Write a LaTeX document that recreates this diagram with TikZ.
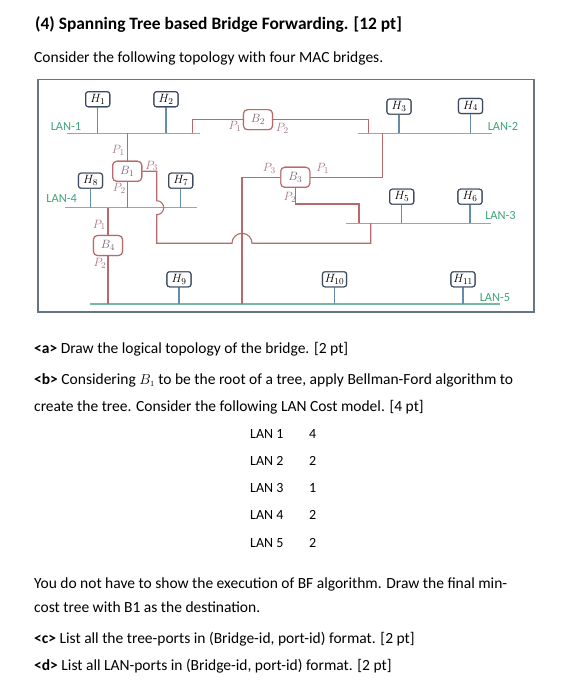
\documentclass[tikz,border=0pt]{standalone}
\usepackage{fontspec}
\setmainfont{Carlito}
\usetikzlibrary{calc}
\definecolor{linkc}{RGB}{185,105,105}
\definecolor{lanc}{RGB}{115,185,165}
\definecolor{lanlab}{RGB}{60,165,120}
\definecolor{stemc}{RGB}{100,140,175}
\definecolor{hostc}{RGB}{60,75,95}
\definecolor{portc}{RGB}{170,115,135}
\definecolor{brlab}{RGB}{120,100,120}
\definecolor{framec}{RGB}{100,118,130}
\tikzset{
  host/.style={draw=hostc, fill=white, rounded corners=2.5pt, line width=1.1pt,
    minimum width=24pt, minimum height=15pt, inner sep=0pt, font=\fontsize{12.5}{12.5}\selectfont},
  bridge/.style={draw=linkc, fill=white, rounded corners=4pt, line width=1.1pt,
    minimum width=29pt, minimum height=20pt, inner sep=0pt, text=brlab, font=\fontsize{13}{13}\selectfont},
  lan/.style={draw=lanc, line width=1.1pt},
  lanlabel/.style={text=lanlab, font=\fontsize{12.4}{12.4}\selectfont, inner sep=0pt},
  stem/.style={draw=stemc, line width=1.1pt},
  link/.style={draw=linkc, line width=1.1pt},
  port/.style={text=portc, font=\fontsize{12.5}{12.5}\selectfont, inner sep=0pt},
  txt/.style={anchor=base west, inner sep=0pt, font=\fontsize{15.5}{15.5}\selectfont},
  tbl/.style={anchor=base west, inner sep=0pt, font=\fontsize{14}{14}\selectfont},
  ttl/.style={anchor=base west, inner sep=0pt, font=\fontsize{17.4}{17.4}\selectfont\bfseries},
}
\begin{document}
\begin{tikzpicture}[x=1pt,y=-1pt]
\useasboundingbox (0,0) rectangle (562,700);
% texts
\node[ttl] (title) at (35,29.5) {(4) Spanning Tree based Bridge Forwarding. [12 pt]};
\node[txt] (intro) at (34,62.7) {Consider the following topology with four MAC bridges.};
\node[txt] (qa) at (34,353) {\textbf{<a>} Draw the logical topology of the bridge. [2 pt]};
\node[txt] (qb1) at (34,384) {\textbf{<b>} Considering $B_{\scriptscriptstyle 1}$ to be the root of a tree, apply Bellman-Ford algorithm to};
\node[txt] (qb2) at (34,411) {create the tree. Consider the following LAN Cost model. [4 pt]};
\foreach \i/\c/\y in {1/4/438.5,2/2/465.5,3/1/492.5,4/2/519.5,5/2/547}{
  \node[tbl] (lan\i t) at (250,\y) {LAN \i};
  \node[tbl] (cost\i) at (309,\y) {\c};
}
\node[txt] (note1) at (34,588) {You do not have to show the execution of BF algorithm. Draw the final min-};
\node[txt] (note2) at (34,612) {cost tree with B1 as the destination.};
\node[txt] (qc) at (34,643) {\textbf{<c>} List all the tree-ports in (Bridge-id, port-id) format. [2 pt]};
\node[txt] (qd) at (34,670) {\textbf{<d>} List all LAN-ports in (Bridge-id, port-id) format. [2 pt]};

% frame
\draw[draw=framec, line width=1.4pt] (38,79.5) rectangle (534,312);

% LANs
\coordinate (l1a) at (66.7,133.3); \coordinate (l1b) at (200,133.3);
\coordinate (l2a) at (358.3,133.3); \coordinate (l2b) at (491.7,133.3);
\coordinate (l3a) at (346,223.3); \coordinate (l3b) at (491,223.3);
\coordinate (l4a) at (65,207.7); \coordinate (l4b) at (196.7,207.7);
\coordinate (l5a) at (90,304); \coordinate (l5b) at (500,304);
\draw[lan] (l1a) -- (l1b);
\draw[lan] (l2a) -- (l2b);
\draw[lan] (l3a) -- (l3b);
\draw[lan] (l4a) -- (l4b);
\draw[lan] (l5a) -- (l5b);
\node[lanlabel] (lab1) at (66,126.5) {LAN-1};
\node[lanlabel] (lab2) at (503,126.5) {LAN-2};
\node[lanlabel] (lab3) at (500.5,216) {LAN-3};
\node[lanlabel] (lab4) at (61.7,198.3) {LAN-4};
\node[lanlabel] (lab5) at (495,297.3) {LAN-5};

% hosts
\node[host] (h1) at (97.7,99.3) {$H_1$};
\node[host] (h2) at (166,99.3) {$H_2$};
\node[host] (h3) at (399,106.7) {$H_3$};
\node[host] (h4) at (470.5,106) {$H_4$};
\node[host] (h5) at (401.7,196.7) {$H_5$};
\node[host] (h6) at (470,196.7) {$H_6$};
\node[host] (h7) at (180.7,180.7) {$H_7$};
\node[host] (h8) at (90.5,180.7) {$H_8$};
\node[host] (h9) at (179,279.3) {$H_9$};
\node[host] (h10) at (334.5,279.3) {$H_{10}$};
\node[host] (h11) at (463,279.3) {$H_{11}$};
\draw[stem] (h1) -- (h1 |- l1a);
\draw[stem] (h2) -- (h2 |- l1a);
\draw[stem] (h3) -- (h3 |- l2a);
\draw[stem] (h4) -- (h4 |- l2a);
\draw[stem] (h5) -- (h5 |- l3a);
\draw[stem] (h6) -- (h6 |- l3a);
\draw[stem] (h7) -- (h7 |- l4a);
\draw[stem] (h8) -- (h8 |- l4a);
\draw[stem] (h9) -- (h9 |- l5a);
\draw[stem] (h10) -- (h10 |- l5a);
\draw[stem] (h11) -- (h11 |- l5a);
\node[host] at (h1) {$H_1$}; \node[host] at (h2) {$H_2$};
\node[host] at (h3) {$H_3$}; \node[host] at (h4) {$H_4$};
\node[host] at (h5) {$H_5$}; \node[host] at (h6) {$H_6$};
\node[host] at (h7) {$H_7$}; \node[host] at (h8) {$H_8$};
\node[host] at (h9) {$H_9$}; \node[host] at (h10) {$H_{10}$};
\node[host] at (h11) {$H_{11}$};

% bridges
\node[bridge] (b1) at (127.2,171.3) {$B_1$};
\node[bridge] (b2) at (258,119.7) {$B_2$};
\node[bridge] (b3) at (295.3,177.3) {$B_3$};
\node[bridge] (b4) at (108,245.5) {$B_4$};

% links
\draw[link] (b2.west) -- (192.7,119.7) -- (192.7,133.3);
\draw[link] (b2.east) -- (368.3,119.7) -- (368.3,133.3);
\draw[link] (b1.north) -- (b1.north |- l1a);
\draw[link] (b1.south) -- (b1.south |- l4a);
\draw[link] (b1.east) -- (156.7,171.3) -- (156.7,200.7)
   arc[start angle=-90, end angle=90, radius=7] -- (156.7,243.3) -- (232,243.3)
   arc[start angle=180, end angle=360, radius=10] -- (370.7,243.3) -- (370.7,223.3);
\draw[link] (b3.east) -- (382.7,177.3) -- (382.7,133.3);
\draw[link] (b3.west) -- (242,177.3) -- (242,304);
\draw[link] (b3.south) -- (295.3,204) -- (359,204) -- (359,223.3);
\draw[link] (b4.north) -- (b4.north |- l4a);
\draw[link] (b4.south) -- (b4.south |- l5a);
\node[bridge] at (b1) {$B_1$};
\node[bridge] at (b2) {$B_2$};
\node[bridge] at (b3) {$B_3$};
\node[bridge] at (b4) {$B_4$};

% ports
\node[port] (b1p1) at (118.3,150.7) {$P_1$};
\node[port] (b1p2) at (119.3,188.3) {$P_2$};
\node[port] (b1p3) at (151.7,166) {$P_3$};
\node[port] (b2p1) at (235,126.7) {$P_1$};
\node[port] (b2p2) at (282.3,128.3) {$P_2$};
\node[port] (b3p3) at (269.3,168.3) {$P_3$};
\node[port] (b3p1) at (322.7,168.3) {$P_1$};
\node[port] (b3p2) at (290,197.3) {$P_2$};
\node[port] (b4p1) at (99.3,225) {$P_1$};
\node[port] (b4p2) at (100,263.3) {$P_2$};
\end{tikzpicture}
\end{document}
